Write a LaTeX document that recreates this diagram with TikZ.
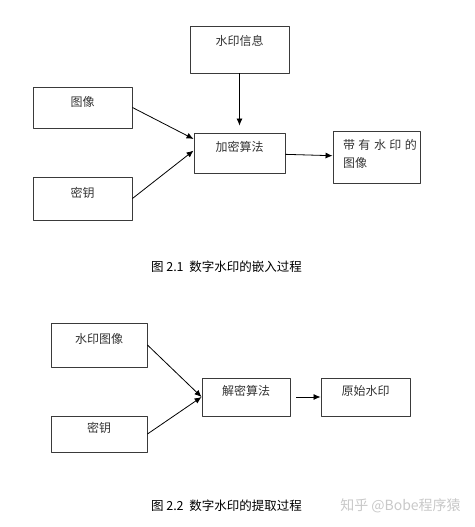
\documentclass[tikz,border=0pt]{standalone}
\usepackage{fontspec}
\setmainfont{Noto Sans CJK SC}
\usetikzlibrary{arrows.meta}
\definecolor{linegray}{HTML}{3A3A3A}
\definecolor{textgray}{HTML}{333333}
\definecolor{markgray}{HTML}{C8C8C8}
\tikzset{
	blk/.style={draw=linegray,line width=.9pt,inner sep=0pt,text=textgray,
		font=\fontsize{12}{18}\selectfont,text height=9pt,text depth=12pt},
	figcap/.style={font=\fontsize{12.5}{15}\selectfont,text=black}
}
\begin{document}
\begin{tikzpicture}[x=1pt,y=-1pt,>={Latex[length=7pt,width=6pt]},line join=round,line width=.8pt]
	\useasboundingbox (0,0) rectangle (474,527);
	\node[blk,minimum width=99pt,minimum height=47pt,text depth=17pt] (wminfo) at (239.5,49.5) {水印信息};
	\node[blk,minimum width=99pt,minimum height=41pt] (img) at (82.5,107.5) {图像};
	\node[blk,minimum width=99pt,minimum height=43pt] (key) at (82.5,198.5) {密钥};
	\node[blk,minimum width=91pt,minimum height=40pt] (enc) at (239.5,153) {加密算法};
	\node[blk,minimum width=87pt,minimum height=52pt,text width=81pt,align=left,text depth=24pt] (out) at (376.5,157)
		{\hspace*{7pt}带\hfill 有\hfill 水\hfill 印\hfill 的\\\hspace*{7pt}图像};
	\draw[->,shorten >=7pt] (wminfo) -- (enc);
	\draw[->] (img.east) -- (enc.163);
	\draw[->] (key.east) -- (enc.177);
	\draw[->] (enc) -- (out);
	\node[figcap] (cap1) at (226.5,267) {图 2.1\hspace{3pt} 数字水印的嵌入过程};
	\node[blk,minimum width=96pt,minimum height=44pt] (wmimg) at (99,345) {水印图像};
	\node[blk,minimum width=96pt,minimum height=36pt] (key2) at (99,434) {密钥};
	\node[blk,minimum width=88pt,minimum height=38pt] (dec) at (246,397) {解密算法};
	\node[blk,minimum width=89pt,minimum height=38pt] (orig) at (365.5,397) {原始水印};
	\draw[->] (wmimg.east) -- (dec.west);
	\draw[->] (key2.east) -- (dec.west);
	\draw[->,shorten <=6pt] (dec) -- (orig);
	\node[figcap] (cap2) at (226.5,506) {图 2.2\hspace{3pt} 数字水印的提取过程};
	\node[font=\fontsize{14}{16}\selectfont,text=markgray] (mark) at (400.5,506) {知乎 @Bobe程序猿};
\end{tikzpicture}
\end{document}
